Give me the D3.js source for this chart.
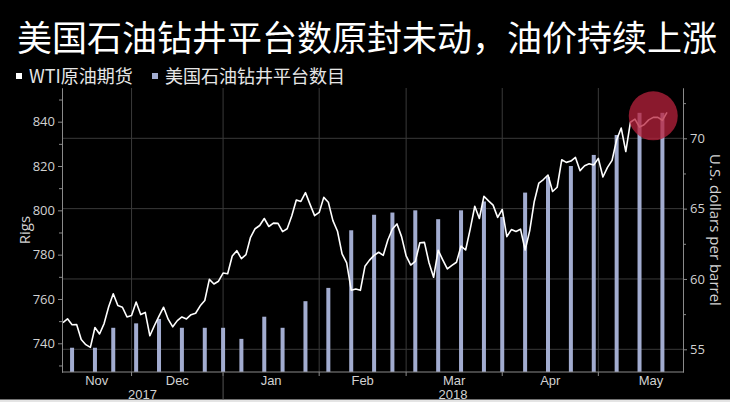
<!DOCTYPE html>
<html><head><meta charset="utf-8">
<script src="https://cdn.jsdelivr.net/npm/d3@7/dist/d3.min.js"></script>
<style>html,body{margin:0;padding:0;background:#000;}svg{display:block;}</style>
</head><body><svg id="c" width="730" height="402"></svg>
<script>
const titleText = "美国石油钻井平台数原封未动，油价持续上涨";
const legendLabels = ["WTI原油期货", "美国石油钻井平台数目"];
const monthLabels = ["Nov", "Dec", "Jan", "Feb", "Mar", "Apr", "May"];
const yearLabels = ["2017", "2018"];
const rigTicks = [740, 760, 780, 800, 820, 840];
const rigMinorTicks = [730, 750, 770, 790, 810, 830, 850];
const priceTicks = [55, 60, 65, 70];
const priceMinorTicks = [57.5, 62.5, 67.5, 72.5];
const leftTitle = "Rigs";
const rightTitle = "U.S. dollars per barrel";

const tradingDates = [
"2017-11-08","2017-11-09","2017-11-10","2017-11-13","2017-11-14","2017-11-15","2017-11-16","2017-11-17","2017-11-20","2017-11-21","2017-11-22","2017-11-24","2017-11-27","2017-11-28","2017-11-29","2017-11-30",
"2017-12-01","2017-12-04","2017-12-05","2017-12-06","2017-12-07","2017-12-08","2017-12-11","2017-12-12","2017-12-13","2017-12-14","2017-12-15","2017-12-18","2017-12-19","2017-12-20","2017-12-21","2017-12-22","2017-12-26","2017-12-27","2017-12-28","2017-12-29",
"2018-01-02","2018-01-03","2018-01-04","2018-01-05","2018-01-08","2018-01-09","2018-01-10","2018-01-11","2018-01-12","2018-01-16","2018-01-17","2018-01-18","2018-01-19","2018-01-22","2018-01-23","2018-01-24","2018-01-25","2018-01-26","2018-01-29","2018-01-30","2018-01-31",
"2018-02-01","2018-02-02","2018-02-05","2018-02-06","2018-02-07","2018-02-08","2018-02-09","2018-02-12","2018-02-13","2018-02-14","2018-02-15","2018-02-16","2018-02-20","2018-02-21","2018-02-22","2018-02-23","2018-02-26","2018-02-27","2018-02-28",
"2018-03-01","2018-03-02","2018-03-05","2018-03-06","2018-03-07","2018-03-08","2018-03-09","2018-03-12","2018-03-13","2018-03-14","2018-03-15","2018-03-16","2018-03-19","2018-03-20","2018-03-21","2018-03-22","2018-03-23","2018-03-26","2018-03-27","2018-03-28","2018-03-29",
"2018-04-02","2018-04-03","2018-04-04","2018-04-05","2018-04-06","2018-04-09","2018-04-10","2018-04-11","2018-04-12","2018-04-13","2018-04-16","2018-04-17","2018-04-18","2018-04-19","2018-04-20","2018-04-23","2018-04-24","2018-04-25","2018-04-26","2018-04-27","2018-04-30",
"2018-05-01","2018-05-02","2018-05-03","2018-05-04","2018-05-07","2018-05-08","2018-05-09","2018-05-10","2018-05-11","2018-05-14","2018-05-15","2018-05-16","2018-05-17","2018-05-18","2018-05-21"];

const wtiPrices = [
56.9,57.17,56.74,56.76,55.70,55.33,55.14,56.55,56.09,56.83,58.02,58.95,58.11,57.99,57.30,57.40,
58.36,57.47,57.62,55.96,56.69,57.36,57.99,57.14,56.60,57.04,57.30,57.16,57.46,57.56,58.09,58.47,59.97,59.64,59.84,60.42,
60.37,61.63,62.01,61.44,61.73,62.96,63.57,63.80,64.30,63.73,63.97,63.95,63.37,63.57,64.47,65.61,65.51,66.14,65.3,64.50,64.73,
65.80,65.45,64.15,63.39,61.79,61.15,59.20,59.29,59.19,60.9,61.34,61.68,61.90,61.68,62.77,63.55,63.91,63.01,61.64,
60.99,61.25,62.57,62.60,61.15,60.12,62.04,61.36,60.71,60.96,61.19,62.34,62.06,63.54,65.17,64.30,65.88,65.55,65.25,64.38,64.94,
63.01,63.51,63.37,63.54,62.06,63.42,65.51,66.82,67.07,67.39,66.22,66.52,68.47,68.29,68.38,68.64,67.70,68.05,68.19,68.10,68.57,
67.25,67.93,68.43,69.9,70.73,69.06,71.14,71.36,70.8,70.96,71.31,71.49,71.49,71.28,71.85];

const rigDates = ["2017-11-10","2017-11-17","2017-11-24","2017-12-01","2017-12-08","2017-12-15","2017-12-22","2017-12-29",
"2018-01-05","2018-01-12","2018-01-19","2018-01-26","2018-02-02","2018-02-09","2018-02-16","2018-02-23",
"2018-03-02","2018-03-09","2018-03-16","2018-03-23","2018-03-29","2018-04-06","2018-04-13","2018-04-20","2018-04-27",
"2018-05-04","2018-05-11","2018-05-18"];
const rigCounts = [738,738,747,749,751,747,747,747,742,752,747,759,765,791,798,799,800,796,800,804,797,808,815,820,825,834,844,844];

const W = 730, H = 402, L = 62, R = 683, T = 88, B = 372;
const svg = d3.select("#c");
svg.append("rect").attr("width", W).attr("height", H).attr("fill", "#000");

const x = d3.scaleLinear().domain([-0.2, tradingDates.length + 2.5]).range([L, R]);
const yL = d3.scaleLinear().domain([727.05, 855.2]).range([B, T]);
const yR = d3.scaleLinear().domain([53.386, 73.576]).range([B, T]);

// month boundaries
const monthKeys = tradingDates.map(d => d.slice(0, 7));
const firstIdx = [];
monthKeys.forEach((k, i) => { if (i === 0 || k !== monthKeys[i - 1]) firstIdx.push(i); });
const boundaries = firstIdx.slice(1).map(i => x(i - 1));
const edges = [L, ...boundaries, x(firstIdx[firstIdx.length - 1] - 1 + 23)];
const yearStartIdx = firstIdx.findIndex(i => tradingDates[i].slice(5, 7) === "01");
const yearBoundary = x(firstIdx[yearStartIdx] - 1);

const gridCol = "#3a3a3a", axisCol = "#8a8a8a", textCol = "#d2d2d2";
const font = "'Open Sans', 'DejaVu Sans', sans-serif";
const smallFont = "'Liberation Sans', Arial, sans-serif";
const cjk = "'Noto Sans CJK SC', sans-serif";

// bottom border strip (drawn first so labels stay readable)
svg.append("rect").attr("x", 0).attr("y", 399.5).attr("width", W).attr("height", 2.5).attr("fill", "#e4e4e4");

// gridlines
const g = svg.append("g");
g.selectAll("line.hg").data(priceTicks).enter().append("line")
  .attr("x1", L).attr("x2", R).attr("y1", d => yR(d)).attr("y2", d => yR(d))
  .attr("stroke", gridCol).attr("stroke-width", 1);
g.selectAll("line.vg").data(boundaries).enter().append("line")
  .attr("x1", d => d).attr("x2", d => d).attr("y1", T).attr("y2", B)
  .attr("stroke", gridCol).attr("stroke-width", 1);

// bars
svg.append("g").selectAll("rect").data(rigCounts).enter().append("rect")
  .attr("x", (d, i) => x(tradingDates.indexOf(rigDates[i])) - 2)
  .attr("width", 4)
  .attr("y", d => yL(d))
  .attr("height", d => B - yL(d))
  .attr("fill", "#a2acd0");

// line
svg.append("clipPath").attr("id", "clip").append("rect").attr("x", L).attr("y", T).attr("width", R - L).attr("height", B - T);
const line = d3.line().x((d, i) => x(i)).y(d => yR(d));
svg.append("path").datum(wtiPrices).attr("d", line).attr("fill", "none")
  .attr("stroke", "#fff").attr("stroke-width", 1.6).attr("stroke-linejoin", "round")
  .attr("clip-path", "url(#clip)");

// axes
function styleAxis(sel) {
  sel.selectAll(".domain").attr("stroke", axisCol);
  sel.selectAll(".tick line").attr("stroke", axisCol);
  sel.selectAll(".tick text").attr("fill", textCol).style("font-family", font).style("font-size", "13px");
}
const aL = svg.append("g").attr("transform", `translate(${L},0)`)
  .call(d3.axisLeft(yL).tickValues(rigTicks).tickSize(4).tickPadding(3).tickSizeOuter(0));
styleAxis(aL);
const aLm = svg.append("g").attr("transform", `translate(${L},0)`)
  .call(d3.axisLeft(yL).tickValues(rigMinorTicks).tickSize(3).tickFormat("").tickSizeOuter(0));
styleAxis(aLm);
const aR = svg.append("g").attr("transform", `translate(${R},0)`)
  .call(d3.axisRight(yR).tickValues(priceTicks).tickSize(4).tickPadding(3).tickSizeOuter(0));
styleAxis(aR);
const aRm = svg.append("g").attr("transform", `translate(${R},0)`)
  .call(d3.axisRight(yR).tickValues(priceMinorTicks).tickSize(3).tickFormat("").tickSizeOuter(0));
styleAxis(aRm);

// bottom axis
svg.append("line").attr("x1", L).attr("x2", R).attr("y1", B).attr("y2", B).attr("stroke", axisCol);
svg.selectAll("line.mt").data(boundaries).enter().append("line")
  .attr("x1", d => d).attr("x2", d => d).attr("y1", B).attr("y2", B + 4).attr("stroke", axisCol);
svg.append("line").attr("x1", yearBoundary).attr("x2", yearBoundary).attr("y1", B).attr("y2", 399.5).attr("stroke", "#555");
svg.selectAll("text.month").data(monthLabels).enter().append("text")
  .attr("x", (d, i) => (edges[i] + edges[i + 1]) / 2).attr("y", 384.5)
  .attr("text-anchor", "middle").attr("fill", textCol)
  .style("font-family", smallFont).style("font-size", "13px").text(d => d);
const yearEdges = [[L, yearBoundary], [yearBoundary, R]];
svg.selectAll("text.year").data(yearLabels).enter().append("text")
  .attr("x", (d, i) => (yearEdges[i][0] + yearEdges[i][1]) / 2).attr("y", 399)
  .attr("text-anchor", "middle").attr("fill", textCol)
  .style("font-family", smallFont).style("font-size", "13px").text(d => d);

// axis titles
svg.append("text").attr("transform", `translate(30,${(T + B) / 2}) rotate(-90)`)
  .attr("text-anchor", "middle").attr("fill", textCol)
  .style("font-family", font).style("font-size", "15px").text(leftTitle);
svg.append("text").attr("transform", `translate(710,${(T + B) / 2}) rotate(90)`)
  .attr("text-anchor", "middle").attr("fill", textCol)
  .style("font-family", font).style("font-size", "15px").text(rightTitle);

// highlight circle
const lastRigIdx = tradingDates.indexOf(rigDates[rigDates.length - 1]);
svg.append("circle").attr("cx", x(lastRigIdx - 2)).attr("cy", yR(71.6)).attr("r", 24.5)
  .attr("fill", "#b8213c").attr("fill-opacity", 0.75);

// title
svg.append("text").attr("x", 17).attr("y", 51).attr("fill", "#fff")
  .style("font-family", cjk).style("font-size", "35px").text(titleText);

// legend
const legendColors = ["#ffffff", "#a2acd0"];
const legendX = [16, 152];
legendLabels.forEach((lab, i) => {
  svg.append("rect").attr("x", legendX[i]).attr("y", 73).attr("width", 6).attr("height", 6).attr("fill", legendColors[i]);
  svg.append("text").attr("x", legendX[i] + 13).attr("y", 83).attr("fill", "#e6e6e6")
    .style("font-family", cjk).style("font-size", "18px").text(lab);
});
</script></body></html>
